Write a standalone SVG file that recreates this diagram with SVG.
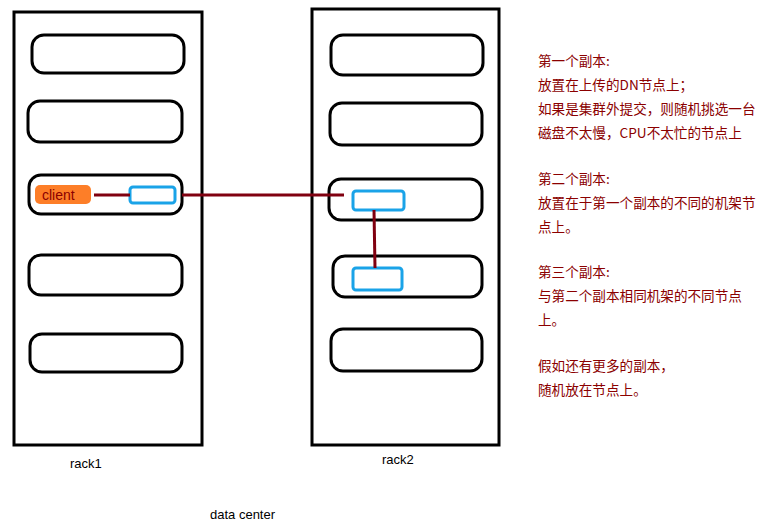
<svg xmlns="http://www.w3.org/2000/svg" width="784" height="528" viewBox="0 0 784 528">
<style>
.rack{fill:none;stroke:#000;stroke-width:3}
.srv{fill:#fff;stroke:#000;stroke-width:3}
.disk{fill:#fff;stroke:#1aa3e8;stroke-width:3}
.con{stroke:#800010;stroke-width:3;fill:none}
.t{font-family:"Noto Sans CJK SC","Liberation Sans",sans-serif;font-size:13.6px;fill:#8b0000}
.lbl{font-family:"Liberation Sans",sans-serif;font-size:13px;fill:#000}
</style>
<rect width="784" height="528" fill="#fff"/>
<g id="rack1">
<rect class="rack" x="14" y="12" width="188" height="433"/>
<rect class="srv" x="32" y="35" width="152" height="38" rx="12"/>
<rect class="srv" x="28" y="101" width="154" height="41" rx="12"/>
<rect class="srv" x="29" y="175" width="153" height="39" rx="12"/>
<rect class="srv" x="29" y="255" width="153" height="40" rx="12"/>
<rect class="srv" x="30" y="334" width="152" height="38" rx="12"/>
<text class="lbl" x="70" y="468">rack1</text>
</g>
<g id="rack2">
<rect class="rack" x="312" y="9" width="187" height="436"/>
<rect class="srv" x="331" y="35" width="152" height="40" rx="12"/>
<rect class="srv" x="330" y="103" width="152" height="42" rx="12"/>
<rect class="srv" x="329" y="179" width="153" height="41" rx="12"/>
<rect class="srv" x="333" y="256" width="149" height="41" rx="12"/>
<rect class="srv" x="331" y="329" width="151" height="42" rx="12"/>
<text class="lbl" x="382" y="464">rack2</text>
</g>
<g id="client">
<rect x="35" y="185" width="56" height="19" rx="5" fill="#fd7e28"/>
<text x="42" y="200" font-family="Liberation Sans,sans-serif" font-size="14" fill="#8b0000">client</text>
</g>
<g id="disk1"><rect class="disk" x="130" y="187" width="45" height="16" rx="3"/></g>
<g id="disk2"><rect class="disk" x="353" y="191" width="51" height="19" rx="3"/></g>
<g id="disk3"><rect class="disk" x="353" y="268" width="49" height="22" rx="3"/></g>
<g id="connectors">
<line class="con" x1="94" y1="195" x2="130" y2="195"/>
<line class="con" x1="182" y1="195" x2="344" y2="195"/>
<line class="con" x1="374" y1="210" x2="375" y2="268"/>
</g>
<g id="notes" class="t">
<text x="538" y="66">第一个副本:</text>
<text x="538" y="90">放置在上传的DN节点上；</text>
<text x="538" y="114">如果是集群外提交，则随机挑选一台</text>
<text x="538" y="138">磁盘不太慢，CPU不太忙的节点上</text>
<text x="538" y="184">第二个副本:</text>
<text x="538" y="208">放置在于第一个副本的不同的机架节</text>
<text x="538" y="232">点上。</text>
<text x="538" y="277">第三个副本:</text>
<text x="538" y="301">与第二个副本相同机架的不同节点</text>
<text x="538" y="325">上。</text>
<text x="538" y="371">假如还有更多的副本，</text>
<text x="538" y="395">随机放在节点上。</text>
</g>
<text class="lbl" x="210" y="519">data center</text>
</svg>
